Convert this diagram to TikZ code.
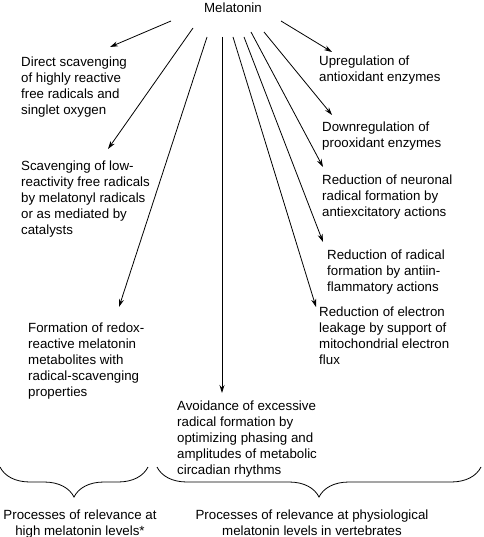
\documentclass[tikz,border=0pt]{standalone}
\usepackage{fontspec}
\setmainfont{Liberation Sans}
\usetikzlibrary{arrows.meta,decorations.pathreplacing}

\begin{document}
\begin{tikzpicture}[x=1pt, y=-1pt, >={Stealth[length=8pt,width=5pt]},
  every node/.style={font=\fontsize{13.3}{16}\selectfont, inner sep=0pt},
  box/.style={anchor=base west, align=left},
  arr/.style={->, line width=0.8pt},
  brc/.style={line width=0.8pt, decorate, decoration={brace, mirror, amplitude=30pt}}]

  \useasboundingbox (0,0) rectangle (483,537);

  % 1. Melatonin
  \node[anchor=base] (mel) at (233,13) {Melatonin};

  % 2. links: Prozesse bei hohen Spiegeln (Basislinie der letzten Zeile)
  \node[box] (direct) at (21,115) {Direct scavenging\\of highly reactive\\free radicals and\\singlet oxygen};
  \node[box] (lowreact) at (21,234) {Scavenging of low-\\reactivity free radicals\\by melatonyl radicals\\or as mediated by\\catalysts};
  \node[box] (redox) at (28,396) {Formation of redox-\\reactive melatonin\\metabolites with\\radical-scavenging\\properties};

  % 3. Mitte und rechts: physiologische Spiegel
  \node[box] (circadian) at (177,474) {Avoidance of excessive\\radical formation by\\optimizing phasing and\\amplitudes of metabolic\\circadian rhythms};
  \node[box] (upreg) at (319,82) {Upregulation of\\antioxidant enzymes};
  \node[box] (downreg) at (322,148) {Downregulation of\\prooxidant enzymes};
  \node[box] (neuronal) at (322,216) {Reduction of neuronal\\radical formation by\\antiexcitatory actions};
  \node[box] (antiinfl) at (327,291) {Reduction of radical\\formation by antiin-\\flammatory actions};
  \node[box] (leakage) at (319,364) {Reduction of electron\\leakage by support of\\mitochondrial electron\\flux};

  % 4. Pfeile (Anfangs- und Endpunkte)
  \coordinate (s1) at (171,21);  \coordinate (e1) at (110,47);
  \coordinate (s2) at (193,28);  \coordinate (e2) at (108,149);
  \coordinate (s3) at (207,37);  \coordinate (e3) at (119,307);
  \coordinate (s4) at (222,37);  \coordinate (e4) at (222,393);
  \coordinate (s5) at (233,37);  \coordinate (e5) at (316,307);
  \coordinate (s6) at (244,37);  \coordinate (e6) at (323,242);
  \coordinate (s7) at (251,32);  \coordinate (e7) at (323,167);
  \coordinate (s8) at (264,32);  \coordinate (e8) at (332,115);
  \coordinate (s9) at (281,21);  \coordinate (e9) at (332,52);
  \draw[arr] (s1) -- (e1);
  \draw[arr] (s2) -- (e2);
  \draw[arr] (s3) -- (e3);
  \draw[arr] (s4) -- (e4);
  \draw[arr] (s5) -- (e5);
  \draw[arr] (s6) -- (e6);
  \draw[arr] (s7) -- (e7);
  \draw[arr] (s8) -- (e8);
  \draw[arr] (s9) -- (e9);

  % 5. Klammern
  \draw[brc] (0,467) -- (148,467);
  \draw[brc] (157,467) -- (481,467);

  % 6. Beschriftung unten
  \node[anchor=base, align=center] (highlvl) at (80,535) {Processes of relevance at\\high melatonin levels*};
  \node[anchor=base, align=center] (physlvl) at (312,535) {Processes of relevance at physiological\\melatonin levels in vertebrates};

\end{tikzpicture}
\end{document}
